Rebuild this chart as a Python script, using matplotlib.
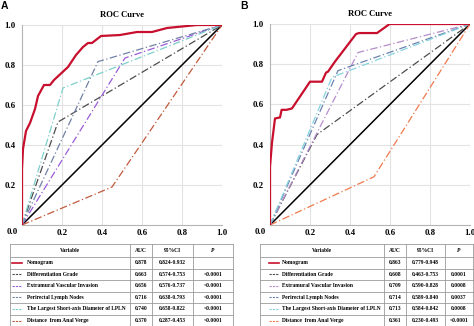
import matplotlib.pyplot as plt

# ---- curve data ----
nom_fpr_a = [0, 0, 0.005, 0.02, 0.04, 0.065, 0.08, 0.11, 0.14, 0.16, 0.23, 0.27, 0.305, 0.33, 0.35,
             0.395, 0.49, 0.575, 0.65, 0.725, 0.875, 1.0]
nom_tpr_a = [0, 0.28, 0.38, 0.47, 0.51, 0.58, 0.645, 0.70, 0.70, 0.725, 0.79, 0.85, 0.89, 0.91, 0.91,
             0.945, 0.95, 0.965, 0.965, 0.985, 1.0, 1.0]
dg_a = ([0, 0.18, 1], [0, 0.515, 1])
evi_a = ([0, 0.515, 1], [0, 0.835, 1])
pln_a = ([0, 0.38, 1], [0, 0.817, 1])
lpln_a = ([0, 0.205, 1], [0, 0.685, 1])
dav_a = ([0, 0.45, 1], [0, 0.19, 1])

nom_fpr_b = [0, 0, 0.01, 0.025, 0.05, 0.058, 0.083, 0.11, 0.20, 0.26, 0.28, 0.29, 0.325, 0.43,
             0.445, 0.535, 0.598, 1.0]
nom_tpr_b = [0, 0.29, 0.41, 0.53, 0.535, 0.573, 0.573, 0.58, 0.713, 0.713, 0.758, 0.763, 0.813, 0.95,
             0.955, 0.955, 1.0, 1.0]
dg_b = ([0, 0.235, 1], [0, 0.45, 1])
evi_b = ([0, 0.44, 1], [0, 0.858, 1])
pln_b = ([0, 0.34, 1], [0, 0.768, 1])
lpln_b = ([0, 0.31, 1], [0, 0.735, 1])
dav_b = ([0, 0.52, 1], [0, 0.24, 1])

variables = ['Nomogram', 'Differentiation Grade', 'Extramural Vascular Invasion',
             'Perirectal Lymph Nodes', 'The Largest Short-axis Diameter of LPLN',
             'Distance  from Anal Verge']
auc_a = ['0.878', '0.663', '0.656', '0.716', '0.740', '0.370']
ci_a = ['0.824-0.932', '0.574-0.753', '0.576-0.737', '0.638-0.793', '0.658-0.822', '0.287-0.453']
p_a = ['', '<0.0001', '<0.0001', '<0.0001', '<0.0001', '<0.0001']
auc_b = ['0.863', '0.608', '0.709', '0.714', '0.713', '0.361']
ci_b = ['0.779-0.948', '0.463-0.753', '0.590-0.828', '0.589-0.840', '0.584-0.842', '0.230-0.493']
p_b = ['', '0.0001', '0.0008', '0.0037', '0.0008', '<0.0001']

colors_a = ['#C8102E', '#4D4D4D', '#9A5CD8', '#7281A6', '#7CCFCB', '#C25A3E']
colors_b = ['#C8102E', '#4D4D4D', '#B58DCB', '#6C82AE', '#86D3DE', '#F07A4E']

W, H = 474, 326
SERIF = ['Liberation Serif', 'DejaVu Serif']
fig = plt.figure(figsize=(W / 100, H / 100), dpi=100)


def px_axes(x0, y0, x1, y1):
    return fig.add_axes([x0 / W, 1 - y1 / H, (x1 - x0) / W, (y1 - y0) / H])


def roc_panel(box, nom, others, colors, label, lab_x):
    ax = px_axes(*box)
    ax.plot([0, 1], [0, 1], color='black', lw=1.1, zorder=2)
    for (fx, ty), c in zip(others, colors[1:]):
        ax.plot(fx, ty, color=c, lw=0.9, ls=(0, (6, 2, 1, 2)), zorder=3)
    ax.plot(nom[0], nom[1], color=colors[0], lw=1.6, zorder=4)
    ax.set_xlim(0, 1)
    ax.set_ylim(0, 1)
    ticks = [0.2, 0.4, 0.6, 0.8, 1.0]
    ax.set_xticks(ticks)
    ax.set_yticks(ticks)
    ax.set_xticklabels(['%.1f' % t for t in ticks])
    ax.set_yticklabels(['%.1f' % t for t in ticks])
    for lab in ax.get_xticklabels() + ax.get_yticklabels():
        lab.set_family(SERIF)
        lab.set_weight('bold')
        lab.set_fontsize(6.3)
    ax.tick_params(axis='x', length=0, pad=3)
    ax.tick_params(axis='y', length=0, pad=4.5)
    ax.annotate('0.0', xy=(0, 0), xytext=(-10, -7), textcoords='offset pixels',
                xycoords='axes fraction', ha='center', va='center',
                family=SERIF, weight='bold', fontsize=6.3)
    ax.grid(color='#E3E3E3', lw=0.8)
    ax.set_axisbelow(True)
    for s in ['top', 'right']:
        ax.spines[s].set_visible(False)
    for s in ['left', 'bottom']:
        ax.spines[s].set_color('#B5B5B5')
        ax.spines[s].set_linewidth(0.8)
    ax.set_title('ROC Curve', family=SERIF, weight='bold', fontsize=6.2, pad=6)
    fig.text(lab_x / W, 1 - 6 / H, label, family='Liberation Sans', weight='bold',
             fontsize=7.5, ha='left', va='center')
    return ax


def table(box, cols, sample_x, name_x, auc, ci, p, colors):
    x0, y0, x1, y1 = box
    ax = px_axes(x0, y0, x1, y1)
    ax.set_xlim(x0, x1)
    ax.set_ylim(y1, y0)
    ax.axis('off')
    rows = [y0, y0 + 13] + [y0 + 13 + 11.5 * (i + 1) for i in range(6)]
    for y in rows:
        ax.plot([x0, x1], [y, y], color='#9A9A9A', lw=0.6, clip_on=False)
    for x in cols:
        ax.plot([x, x], [y0, y1], color='#9A9A9A', lw=0.6, clip_on=False)
    kw = dict(family=SERIF, weight='bold', fontsize=4.0, va='center')
    hy = (rows[0] + rows[1]) / 2
    ax.text((cols[0] + cols[1]) / 2, hy, 'Variable', ha='center', **kw)
    ax.text((cols[1] + cols[2]) / 2, hy, 'AUC', ha='center', **kw)
    ax.text((cols[2] + cols[3]) / 2, hy, '95%CI', ha='center', **kw)
    ax.text((cols[3] + cols[4]) / 2, hy, 'P', ha='center', style='italic', **kw)
    for i in range(6):
        y = (rows[i + 1] + rows[i + 2]) / 2 if i < 5 else rows[6] + 6
        if i == 0:
            ax.plot([sample_x, sample_x + 10], [y, y], color=colors[0], lw=1.2)
        else:
            ax.plot([sample_x, sample_x + 10], [y, y], color=colors[i], lw=0.8, ls=(0, (2, 1)))
        ax.text(name_x, y, variables[i], ha='left', **kw)
        ax.text((cols[1] + cols[2]) / 2, y, auc[i], ha='center', **kw)
        ax.text((cols[2] + cols[3]) / 2, y, ci[i], ha='center', **kw)
        ax.text((cols[3] + cols[4]) / 2, y, p[i], ha='center', **kw)


roc_panel((22, 25, 222, 225), (nom_fpr_a, nom_tpr_a), [dg_a, evi_a, pln_a, lpln_a, dav_a],
          colors_a, 'A', 1)
roc_panel((270, 24, 470, 225), (nom_fpr_b, nom_tpr_b), [dg_b, evi_b, pln_b, lpln_b, dav_b],
          colors_b, 'B', 240)

table((10, 244, 233, 326), [10, 130, 152, 193, 233], 12, 27, auc_a, ci_a, p_a, colors_a)
table((260, 244, 473, 326), [260, 384, 406, 445, 473], 269, 282, auc_b, ci_b, p_b, colors_b)

fig.savefig('out.png', dpi=100)
